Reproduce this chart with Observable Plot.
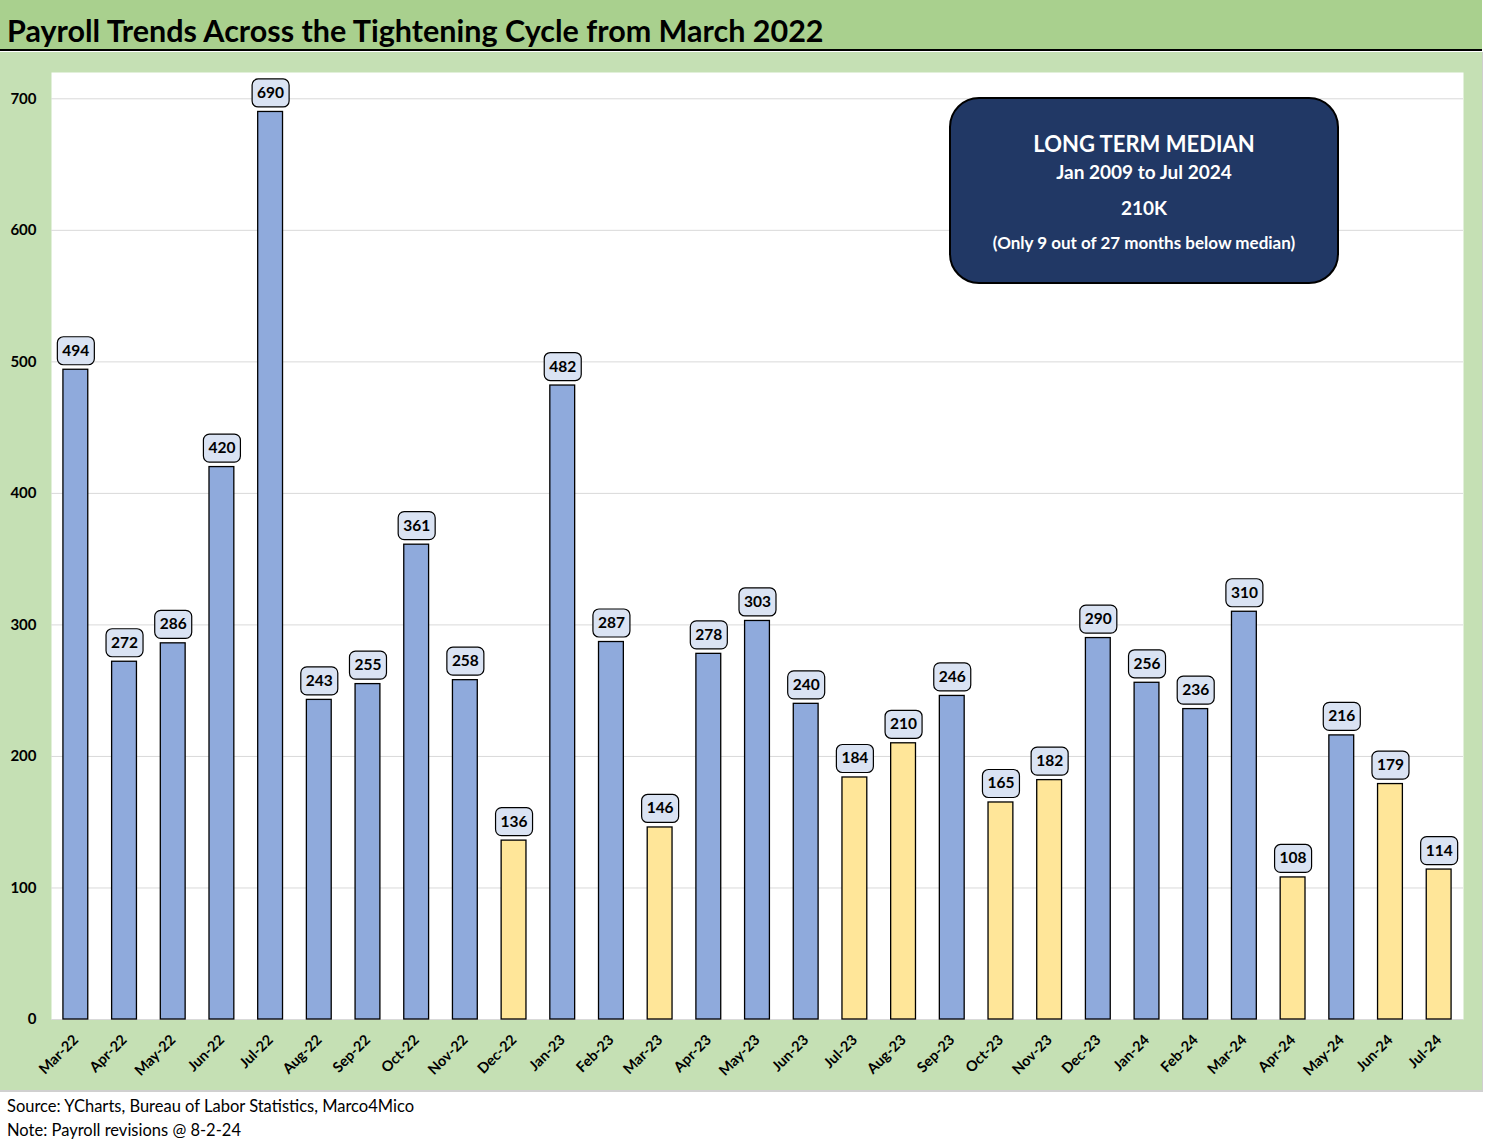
<!DOCTYPE html>
<html>
<head>
<meta charset="utf-8">
<script src="https://cdn.jsdelivr.net/npm/d3@7"></script>
<script src="https://cdn.jsdelivr.net/npm/@observablehq/plot@0.6"></script>
<style>
  html, body { margin: 0; padding: 0; background: #ffffff; }
  body { width: 1486px; height: 1144px; position: relative; font-family: Lato, "Open Sans", sans-serif; overflow: hidden; }
  #title { position: absolute; left: 0; top: 0; width: 1482px; height: 49px; background: #a9d08e; border-bottom: 2px solid #000; }
  #title span { position: absolute; left: 7px; top: 12px; font-size: 30.5px; font-weight: 700; color: #000; white-space: nowrap; }
  #panel { position: absolute; left: 0; top: 52px; width: 1482px; height: 1038px; background: #c5e0b4; border-right: 1px solid #cfcfcf; border-bottom: 2px solid #d0d0d0; }
  #panel svg { display: block; }
  #panel svg g[aria-label="x-axis tick label"] text, #panel svg g[aria-label="y-axis tick label"] text { font-weight: 700 !important; }
  #box { position: absolute; left: 949px; top: 97px; width: 386px; height: 183px; background: #213865; border: 2px solid #000; border-radius: 30px; color: #fff; font-weight: 700; }
  #box div { position: absolute; left: 0; width: 100%; text-align: center; white-space: nowrap; }
  #src { position: absolute; left: 7px; top: 1094px; font-size: 16.5px; color: #000; line-height: 24px; }
</style>
</head>
<body>
<div id="title"><span>Payroll Trends Across the Tightening Cycle from March 2022</span></div>
<div id="panel"></div>
<div id="box">
  <div style="top:31px;font-size:22px;">LONG TERM MEDIAN</div>
  <div style="top:61px;font-size:19px;">Jan 2009 to Jul 2024</div>
  <div style="top:97px;font-size:19px;">210K</div>
  <div style="top:133px;font-size:17px;">(Only 9 out of 27 months below median)</div>
</div>
<div id="src">Source: YCharts, Bureau of Labor Statistics, Marco4Mico<br>Note: Payroll revisions @ 8-2-24</div>
<script>
const months = ["Mar-22","Apr-22","May-22","Jun-22","Jul-22","Aug-22","Sep-22","Oct-22","Nov-22","Dec-22",
  "Jan-23","Feb-23","Mar-23","Apr-23","May-23","Jun-23","Jul-23","Aug-23","Sep-23","Oct-23","Nov-23","Dec-23",
  "Jan-24","Feb-24","Mar-24","Apr-24","May-24","Jun-24","Jul-24"];
const payrolls = [494,272,286,420,690,243,255,361,258,136,
  482,287,146,278,303,240,184,210,246,165,182,290,
  256,236,310,108,216,179,114];
const medianK = 210;
const yTicks = [0,100,200,300,400,500,600,700];
const gridTicks = [100,200,300,400,500,600,700];

const blue = "#8faadc", yellow = "#ffe699";
const data = months.map((m, i) => ({month: m, value: payrolls[i]}));

const chart = Plot.plot({
  width: 1482,
  height: 1038,
  marginLeft: 51,
  marginRight: 19,
  marginTop: 20,
  marginBottom: 71,
  style: {background: "transparent", fontFamily: "Lato, 'Open Sans', sans-serif", fontSize: "14px", color: "#000", overflow: "visible"},
  x: {domain: months, paddingInner: 0.49, paddingOuter: 0.245, round: false, label: null, axis: null},
  y: {domain: [0, 720], label: null, axis: null},
  color: {type: "identity"},
  marks: [
    Plot.frame({fill: "#ffffff", stroke: "none"}),
    Plot.ruleY(gridTicks, {stroke: "#d9d9d9", strokeWidth: 1}),
    Plot.ruleY([0], {stroke: "#d9d9d9", strokeWidth: 1}),
    Plot.barY(data, {x: "month", y: "value", fill: d => d.value <= medianK ? yellow : blue, stroke: "#000", strokeWidth: 1.3}),
    Plot.text(data, {
      x: "month", y: "value", text: d => String(d.value), dy: -19,
      fontSize: 15.5, fontWeight: 700, fill: "#000", lineAnchor: "middle",
      render(index, scales, values, dimensions, context, next) {
        const g = next(index, scales, values, dimensions, context);
        const ns = "http://www.w3.org/2000/svg";
        const first = g.firstChild;
        for (const i of index) {
          const r = document.createElementNS(ns, "rect");
          r.setAttribute("x", values.x[i] - 18.5);
          r.setAttribute("y", values.y[i] - 14);
          r.setAttribute("width", 37);
          r.setAttribute("height", 28);
          r.setAttribute("rx", 6);
          r.setAttribute("fill", "#dae3f3");
          r.setAttribute("stroke", "#000");
          r.setAttribute("stroke-width", 1.2);
          g.insertBefore(r, first);
        }
        return g;
      }
    }),
    Plot.axisY(yTicks, {tickSize: 0, tickPadding: 15, fontSize: 15, fontWeight: 700, label: null}),
    Plot.axisX({tickSize: 0, tickPadding: 18, tickRotate: -45, fontSize: 14.5, fontWeight: 700, label: null})
  ]
});
document.getElementById("panel").appendChild(chart);
</script>
</body>
</html>
